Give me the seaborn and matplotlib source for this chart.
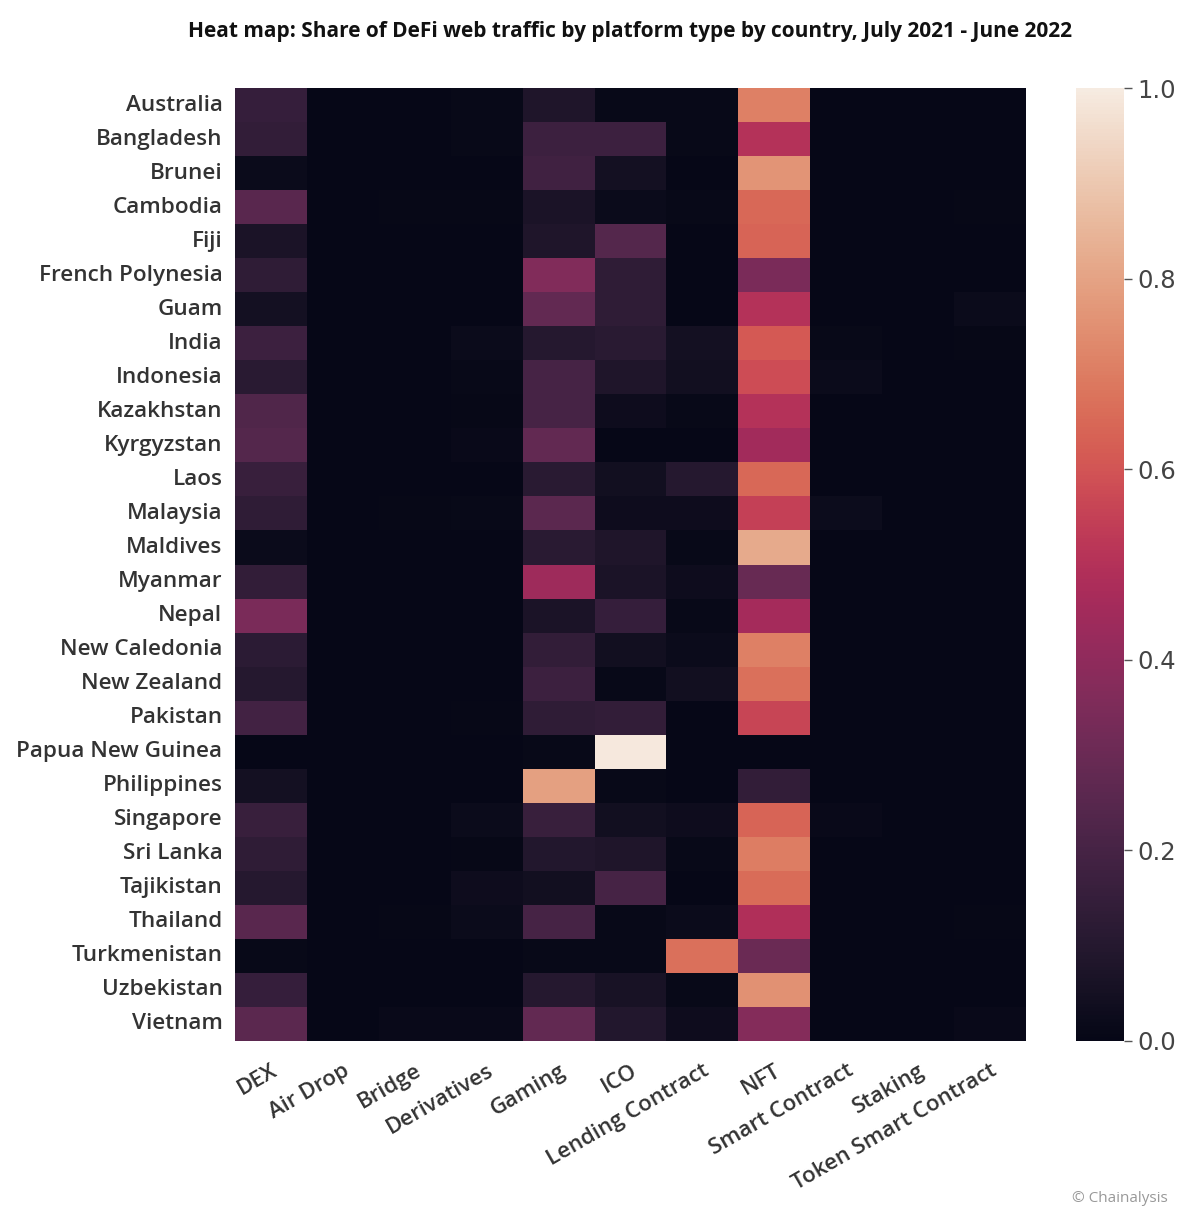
import seaborn as sns
import numpy as np
import pandas as pd
import matplotlib.pyplot as plt

plt.rcParams['font.family'] = ['Open Sans', 'DejaVu Sans']

countries = ["Australia", "Bangladesh", "Brunei", "Cambodia", "Fiji", "French Polynesia", "Guam", "India",
             "Indonesia", "Kazakhstan", "Kyrgyzstan", "Laos", "Malaysia", "Maldives", "Myanmar", "Nepal",
             "New Caledonia", "New Zealand", "Pakistan", "Papua New Guinea", "Philippines", "Singapore",
             "Sri Lanka", "Tajikistan", "Thailand", "Turkmenistan", "Uzbekistan", "Vietnam"]
platforms = ["DEX", "Air Drop", "Bridge", "Derivatives", "Gaming", "ICO", "Lending Contract", "NFT",
             "Smart Contract", "Staking", "Token Smart Contract"]

dex = [.15, .14, .02, .25, .07, .13, .05, .17, .11, .23, .24, .16, .13, .02, .14, .34, .12, .10, .19, .00, .05, .16, .13, .10, .25, .01, .15, .26]
airdrop = [0] * 28
bridge = [0, 0, 0, .005, 0, 0, 0, 0, 0, 0, 0, 0, .005, 0, 0, 0, 0, 0, 0, 0, 0, 0, 0, 0, .005, 0, 0, .015]
derivatives = [.01, .01, 0, .005, 0, 0, 0, .02, .01, .005, .015, 0, .01, 0, 0, 0, 0, 0, .005, 0, 0, .02, .005, .03, .02, 0, 0, .015]
gaming = [.08, .17, .18, .07, .08, .36, .28, .10, .20, .20, .28, .11, .26, .11, .44, .07, .14, .17, .13, .01, .79, .16, .09, .04, .20, .01, .10, .28]
ico = [.01, .17, .05, .02, .24, .13, .13, .11, .08, .03, .00, .04, .03, .08, .07, .15, .04, .01, .14, .99, .01, .04, .08, .20, .01, .01, .06, .09]
lending = [.01, .01, 0, .01, 0, 0, 0, .05, .04, .01, 0, .10, .03, .01, .03, .01, .02, .04, 0, 0, 0, .03, .01, 0, .02, .67, .01, .03]
nft = [.71, .50, .76, .65, .64, .34, .50, .61, .58, .50, .45, .65, .55, .82, .29, .46, .71, .67, .56, .00, .14, .64, .70, .66, .49, .30, .75, .37]
smart = [0, 0, 0, 0, 0, 0, 0, .01, .02, 0, 0, 0, .025, 0, 0, 0, 0, 0, 0, 0, 0, .015, 0, 0, 0, 0, 0, 0]
staking = [0] * 28
token = [0, 0, 0, .005, 0, 0, .02, .005, 0, 0, 0, 0, 0, 0, 0, 0, 0, 0, 0, 0, 0, 0, 0, 0, .005, 0, 0, .015]

df = pd.DataFrame(dict(zip(platforms, [dex, airdrop, bridge, derivatives, gaming, ico, lending, nft, smart, staking, token])),
                  index=countries)

# reference looks like a washed out rocket
rocket = sns.color_palette("rocket", 256)
cmap = sns.blend_palette([sns.desaturate(c, 0.74) for c in rocket], 256, as_cmap=True)

fig = plt.figure(figsize=(12, 12.23), dpi=100)
ax = fig.add_axes([235 / 1200, 1 - 1041 / 1223, (1026 - 235) / 1200, (1041 - 88) / 1223])
cax = fig.add_axes([1076 / 1200, 1 - 1041 / 1223, (1124 - 1076) / 1200, (1041 - 88) / 1223])

sns.heatmap(df, ax=ax, cbar_ax=cax, vmin=0, vmax=1, cmap=cmap)

ax.tick_params(axis='both', length=0)
ax.set_yticklabels(countries, rotation=0, fontsize=16.2, fontweight='semibold', color="#333333")
ax.set_xticklabels(platforms, rotation=30, ha='right', rotation_mode='anchor', fontsize=15.9, fontweight='semibold', color="#333333")
ax.tick_params(axis='y', pad=9)
ax.tick_params(axis='x', pad=14)

cax.tick_params(length=6, width=1, color="#555555", labelcolor="#444444")
cax.set_yticks([0, .2, .4, .6, .8, 1.0])
for t in cax.get_yticklabels():
    t.set_family("DejaVu Sans")
    t.set_fontsize(17.5)
for s in cax.spines.values():
    s.set_visible(False)

fig.text(630 / 1200, 1 - 32 / 1223, "Heat map: Share of DeFi web traffic by platform type by country, July 2021 - June 2022",
         ha='center', va='center', fontsize=15, fontweight='bold', color="#111111")
fig.text(1168 / 1200, 1 - 1198 / 1223, "© Chainalysis", ha='right', va='center', fontsize=11, color="#999999")

fig.savefig("out.png", dpi=100)
